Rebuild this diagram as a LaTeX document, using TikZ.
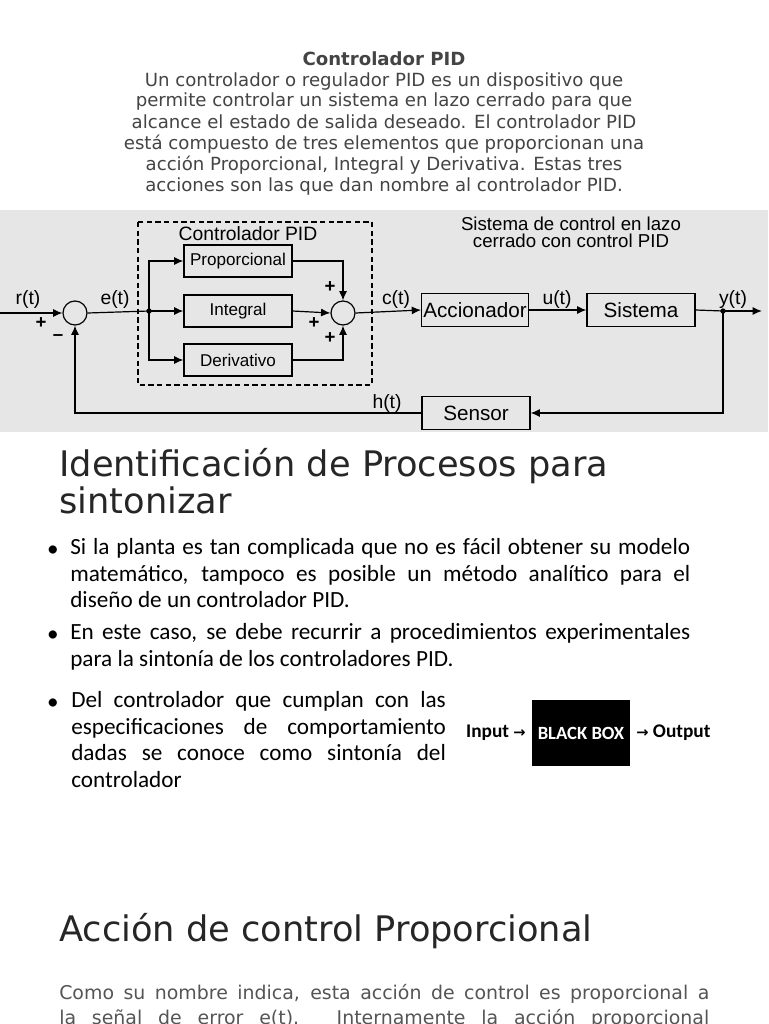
\documentclass[tikz,border=0pt]{standalone}
\usepackage{fontspec}
\setmainfont{DejaVu Sans}
\newfontfamily\arialf{Liberation Sans}
\newfontfamily\carl{Carlito}
\usetikzlibrary{arrows.meta}
\definecolor{topgray}{HTML}{444444}
\definecolor{bggray}{HTML}{E6E6E6}
\definecolor{bodygray}{HTML}{555555}
\hyphenpenalty=10000
\exhyphenpenalty=10000
\begin{document}
\begin{tikzpicture}[x=0.75pt,y=-0.75pt,
  blk/.style={draw,line width=0.9pt,minimum width=81pt,minimum height=24pt,inner sep=0pt,font=\arialf\fontsize{12.8}{14}\selectfont},
  bigblk/.style={blk,minimum width=81pt,minimum height=25pt,font=\arialf\fontsize{15.5}{16}\selectfont},
  sumc/.style={draw,circle,line width=0.9pt,minimum size=18pt,inner sep=0pt},
  sig/.style={font=\arialf\fontsize{14.5}{15}\selectfont,anchor=base},
  pm/.style={font=\arialf\bfseries\fontsize{14}{14}\selectfont},
  arr/.style={line width=0.9pt,-{Latex[length=7pt,width=6pt]}},
  ln/.style={line width=0.9pt},
  toptxt/.style={anchor=base,text=topgray,font=\fontsize{13.6}{16}\selectfont},
  bfont/.style={font=\carl\fontsize{17.4}{20}\selectfont},
  bul/.style={bfont,anchor=north west,text width=465pt,align=justify,inner sep=0pt},
  head/.style={anchor=base west,inner sep=0pt,text=black!85,font=\fontsize{26.4}{30}\selectfont}]
\useasboundingbox (0,0) rectangle (768,1024);
\clip (0,0) rectangle (768,1024);
\fill[white] (0,0) rectangle (768,1024);
% top text
\node[toptxt,font=\bfseries\fontsize{13.6}{16}\selectfont] (t0) at (384,65) {Controlador PID};
\node[toptxt] (t1) at (384,86) {Un controlador o regulador PID es un dispositivo que};
\node[toptxt] (t2) at (384,107) {permite controlar un sistema en lazo cerrado para que};
\node[toptxt] (t3) at (384,128) {alcance el estado de salida deseado. El controlador PID};
\node[toptxt] (t4) at (384,149) {está compuesto de tres elementos que proporcionan una};
\node[toptxt] (t5) at (384,170) {acción Proporcional, Integral y Derivativa. Estas tres};
\node[toptxt] (t6) at (384,191) {acciones son las que dan nombre al controlador PID.};
% diagram
\fill[bggray] (0,210) rectangle (768,432);
\draw[ln,dashed,dash pattern=on 4pt off 2.5pt] (138,222) rectangle (372,385);
\node[font=\arialf\fontsize{14.5}{15}\selectfont] (ctl) at (248,234) {Controlador PID};
\node[anchor=base,font=\arialf\fontsize{14}{15}\selectfont] (tit1) at (571,230) {Sistema de control en lazo};
\node[anchor=base,font=\arialf\fontsize{14}{15}\selectfont] (tit2) at (571,247) {cerrado con control PID};
\node[sumc] (s1) at (75,313) {};
\node[sumc] (s2) at (343,313) {};
\node[blk] (pro) at (238,261) {Proporcional};
\node[blk] (int) at (238,311) {Integral};
\node[blk] (der) at (238,360) {Derivativo};
\node[bigblk,minimum width=80pt] (acc) at (475,310) {Accionador};
\node[bigblk] (sis) at (641,310) {Sistema};
\node[bigblk] (sen) at (476,413) {Sensor};
\coordinate (in) at (0,313);
\coordinate (br) at (149,311);
\coordinate (yb) at (723,311);
\coordinate (out) at (762,311);
\fill (br) circle (2pt);
\fill (yb) circle (2pt);
\draw[arr] (in) -- (s1.west);
\draw[ln] (s1.east) -- (br);
\draw[arr] (br) -- (int.west);
\draw[arr] (br) |- (pro.west);
\draw[arr] (br) |- (der.west);
\draw[arr] (pro.east) -| (s2.north);
\draw[arr] (int.east) -- (s2.west);
\draw[arr] (der.east) -| (s2.south);
\draw[arr] (s2.east) -- (acc.west);
\draw[arr] (acc.east) -- (sis.west);
\draw[ln] (sis.east) -- (yb);
\draw[arr] (yb) -- (out);
\draw[arr] (yb) |- (sen.east);
\draw[arr] (sen.west) -| (s1.south);
\node[sig] (lr) at (28,304) {r(t)};
\node[sig] (le) at (115,304) {e(t)};
\node[sig] (lc) at (396,304) {c(t)};
\node[sig] (lu) at (557,304) {u(t)};
\node[sig] (ly) at (733,304) {y(t)};
\node[sig] (lh) at (387,408) {h(t)};
\node[pm] (p1) at (41,323) {+};
\node[pm] (m1) at (58,338) {\textendash};
\node[pm] (p2) at (330,287) {+};
\node[pm] (p3) at (314,323) {+};
\node[pm] (p4) at (330,338) {+};
% section 1
\node[head] (h1) at (59,476) {Identificación de Procesos para};
\node[head] (h1b) at (59,513) {sintonizar};
\node[bfont] (b1) at (53,551) {•};
\node[bul] (bt1) at (70,538) {Si la planta es tan complicada que no es fácil obtener su modelo\linebreak matemático, tampoco es posible un método analítico para el\linebreak diseño de un controlador PID.};
\node[bfont] (b2) at (53,636) {•};
\node[bul] (bt2) at (70,623) {En este caso, se debe recurrir a procedimientos experimentales\linebreak para la sintonía de los controladores PID.};
\node[bfont] (b3) at (53,704) {•};
\node[bul,text width=281pt] (bt3) at (71,691) {Del controlador que cumplan con las\linebreak especificaciones de comportamiento\linebreak dadas se conoce como sintonía del\linebreak controlador};
\node[fill=black,minimum width=73pt,minimum height=49pt,inner sep=0pt,text=white,font=\carl\bfseries\fontsize{14}{14}\selectfont] (bb) at (581,733) {BLACK BOX};
\node[anchor=east,inner sep=0pt,font=\carl\bfseries\fontsize{14.5}{14}\selectfont] (inp) at (526,733) {Input {\fontspec{DejaVu Sans}\fontsize{11}{12}\selectfont→}};
\node[anchor=west,inner sep=0pt,font=\carl\bfseries\fontsize{14.5}{14}\selectfont] (outp) at (636,733) {{\fontspec{DejaVu Sans}\fontsize{11}{12}\selectfont→} Output};
% section 2
\node[head] (h2) at (59,941) {Acción de control Proporcional};
\node[anchor=north west,inner sep=0pt,text width=487.5pt,align=justify,text=bodygray,font=\fontsize{14.2}{18.75}\selectfont] (para) at (59,984) {Como su nombre indica, esta acción de control es proporcional a\linebreak la señal de error e(t). Internamente la acción proporcional\linebreak multiplica la señal de error por una constante.};
\end{tikzpicture}
\end{document}
